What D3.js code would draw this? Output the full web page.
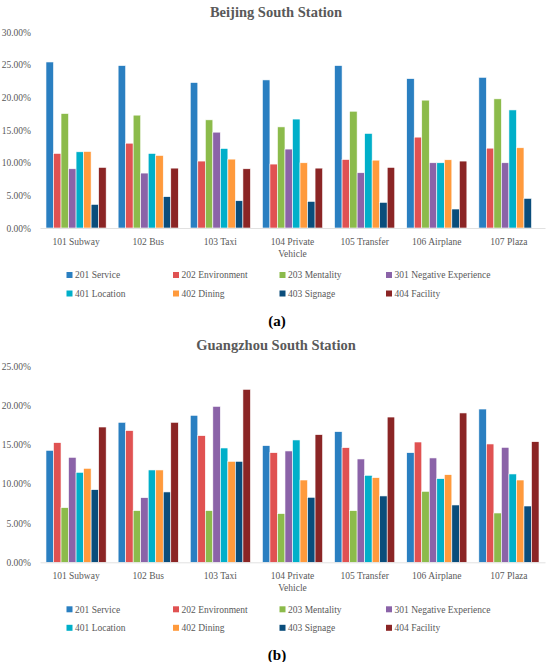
<!DOCTYPE html>
<html>
<head>
<meta charset="utf-8">
<script src="https://cdn.jsdelivr.net/npm/d3@7"></script>
<style>
  html, body { margin: 0; padding: 0; background: #fff; }
  svg { display: block; }
  svg text { font-family: "Liberation Serif", "Times New Roman", Times, serif !important; }
</style>
</head>
<body>
<svg id="chart" width="550" height="662"></svg>
<script>
const categories = ["101 Subway", "102 Bus", "103 Taxi", "104 Private Vehicle", "105 Transfer", "106 Airplane", "107 Plaza"];
const seriesNames = ["201 Service", "202 Environment", "203 Mentality", "301 Negative Experience", "401 Location", "402 Dining", "403 Signage", "404 Facility"];
const seriesColors = ["#2a7fc1", "#e05252", "#8cbb4b", "#8b63a8", "#00afc9", "#ff9a3c", "#0a4d7b", "#8b2525"];

// Beijing South Station: values (%) per series, across categories 101..107
const beijingService     = [25.45, 24.9, 22.3, 22.7, 24.9, 22.9, 23.1];
const beijingEnvironment = [11.43, 13.0, 10.26, 9.8, 10.5, 13.93, 12.24];
const beijingMentality   = [17.55, 17.3, 16.58, 15.5, 17.9, 19.6, 19.8];
const beijingNegative    = [9.08, 8.42, 14.69, 12.1, 8.47, 10.0, 10.0];
const beijingLocation    = [11.68, 11.43, 12.19, 16.7, 14.5, 10.0, 18.1];
const beijingDining      = [11.73, 11.12, 10.56, 10.0, 10.4, 10.46, 12.3];
const beijingSignage     = [3.62, 4.8, 4.18, 4.08, 3.93, 2.91, 4.54];
const beijingFacility    = [9.29, 9.18, 9.08, 9.18, 9.29, 10.26, 0];

// Guangzhou South Station
const guangzhouService     = [14.26, 17.83, 18.72, 14.86, 16.64, 13.96, 19.52];
const guangzhouEnvironment = [15.24, 16.77, 16.13, 13.96, 14.6, 15.32, 15.07];
const guangzhouMentality   = [6.96, 6.58, 6.58, 6.2, 6.58, 9.04, 6.28];
const guangzhouNegative    = [13.37, 8.23, 19.86, 14.18, 13.16, 13.29, 14.64];
const guangzhouLocation    = [11.46, 11.76, 14.56, 15.58, 11.08, 10.65, 11.25];
const guangzhouDining      = [11.97, 11.76, 12.86, 10.48, 10.78, 11.16, 10.48];
const guangzhouSignage     = [9.25, 8.96, 12.86, 8.28, 8.45, 7.3, 7.17];
const guangzhouFacility    = [17.23, 17.83, 22.03, 16.26, 18.5, 19.02, 15.36];

const beijingTicks = [0, 5, 10, 15, 20, 25, 30];
const guangzhouTicks = [0, 5, 10, 15, 20, 25];

const beijingSeries = [beijingService, beijingEnvironment, beijingMentality, beijingNegative, beijingLocation, beijingDining, beijingSignage, beijingFacility];
const guangzhouSeries = [guangzhouService, guangzhouEnvironment, guangzhouMentality, guangzhouNegative, guangzhouLocation, guangzhouDining, guangzhouSignage, guangzhouFacility];

const svg = d3.select("#chart");
const textColor = "#595959";
const FONT = "'Liberation Serif', 'Times New Roman', serif";

function drawChart(opts) {
  const g = svg.append("g").attr("font-family", FONT);
  const { title, series, ticks, yTop, yBase, titleY, caption } = opts;
  const maxV = ticks[ticks.length - 1];

  const x0 = d3.scaleBand().domain(categories).range([40, 545]).paddingInner(0.166).paddingOuter(0.083);
  const x1 = d3.scaleBand().domain(d3.range(seriesNames.length)).range([0, x0.bandwidth()]).padding(0);
  const y = d3.scaleLinear().domain([0, maxV]).range([yBase, yTop]);

  g.append("text").attr("x", 276).attr("y", titleY).attr("text-anchor", "middle")
    .style("font-family", FONT)
    .attr("font-size", 14.5).attr("font-weight", "bold").attr("fill", textColor).text(title);

  // y axis labels
  const yAxis = d3.axisLeft(y).tickValues(ticks).tickSize(0).tickPadding(0)
    .tickFormat(d => d3.format(".2f")(d) + "%");
  const ya = g.append("g").attr("transform", "translate(31,0)").call(yAxis);
  ya.attr("font-family", FONT);
  ya.select(".domain").remove();
  ya.selectAll("text").attr("font-size", 9.5).attr("fill", textColor).style("font-family", FONT);

  // bars
  const data = [];
  categories.forEach((c, ci) => {
    series.forEach((s, si) => {
      data.push({ cat: c, si, v: s[ci] });
    });
  });
  g.append("g").selectAll("rect").data(data.filter(d => d.v > 0)).join("rect")
    .attr("x", d => x0(d.cat) + x1(d.si))
    .attr("y", d => y(d.v))
    .attr("width", x1.bandwidth())
    .attr("height", d => y(0) - y(d.v))
    .attr("fill", d => seriesColors[d.si])
    .attr("stroke", "#ffffff").attr("stroke-width", 0.6);

  // x axis
  const xAxis = d3.axisBottom(x0).tickSize(0).tickPadding(0).tickFormat("");
  const xa = g.append("g").attr("transform", `translate(0,${yBase})`).call(xAxis);
  xa.attr("font-family", FONT);
  xa.select(".domain").attr("stroke", "#d9d9d9").attr("stroke-width", 0.8);
  xa.selectAll(".tick").each(function(d) {
    const t = d3.select(this).append("text").attr("text-anchor", "middle")
      .style("font-family", FONT)
      .attr("font-size", 9.5).attr("fill", textColor);
    const words = d === "104 Private Vehicle" ? ["104 Private", "Vehicle"] : [d];
    words.forEach((w, i) => {
      t.append("tspan").attr("x", 0).attr("y", 17 + i * 11.8).text(w);
    });
  });

  // legend
  const colX = [66.5, 173, 279.5, 386];
  const rowY = [yBase + 47, yBase + 65.5];
  const lg = g.append("g");
  seriesNames.forEach((name, i) => {
    const cx = colX[i % 4], cy = rowY[Math.floor(i / 4)];
    lg.append("rect").attr("x", cx).attr("y", cy - 3).attr("width", 6).attr("height", 6)
      .attr("fill", seriesColors[i]);
    lg.append("text").attr("x", cx + 8.5).attr("y", cy + 3.3).attr("font-size", 9.5)
      .style("font-family", FONT)
      .attr("fill", textColor).text(name);
  });

  g.append("text").attr("x", 277).attr("y", yBase + 97.5).attr("text-anchor", "middle")
    .style("font-family", FONT)
    .attr("font-size", 15).attr("font-weight", "bold").attr("fill", "#000").text(caption);
}

drawChart({ title: "Beijing South Station", series: beijingSeries, ticks: beijingTicks,
  yTop: 32.3, yBase: 228, titleY: 17, caption: "(a)" });
drawChart({ title: "Guangzhou South Station", series: guangzhouSeries, ticks: guangzhouTicks,
  yTop: 366, yBase: 562.3, titleY: 350, caption: "(b)" });
</script>
</body>
</html>
